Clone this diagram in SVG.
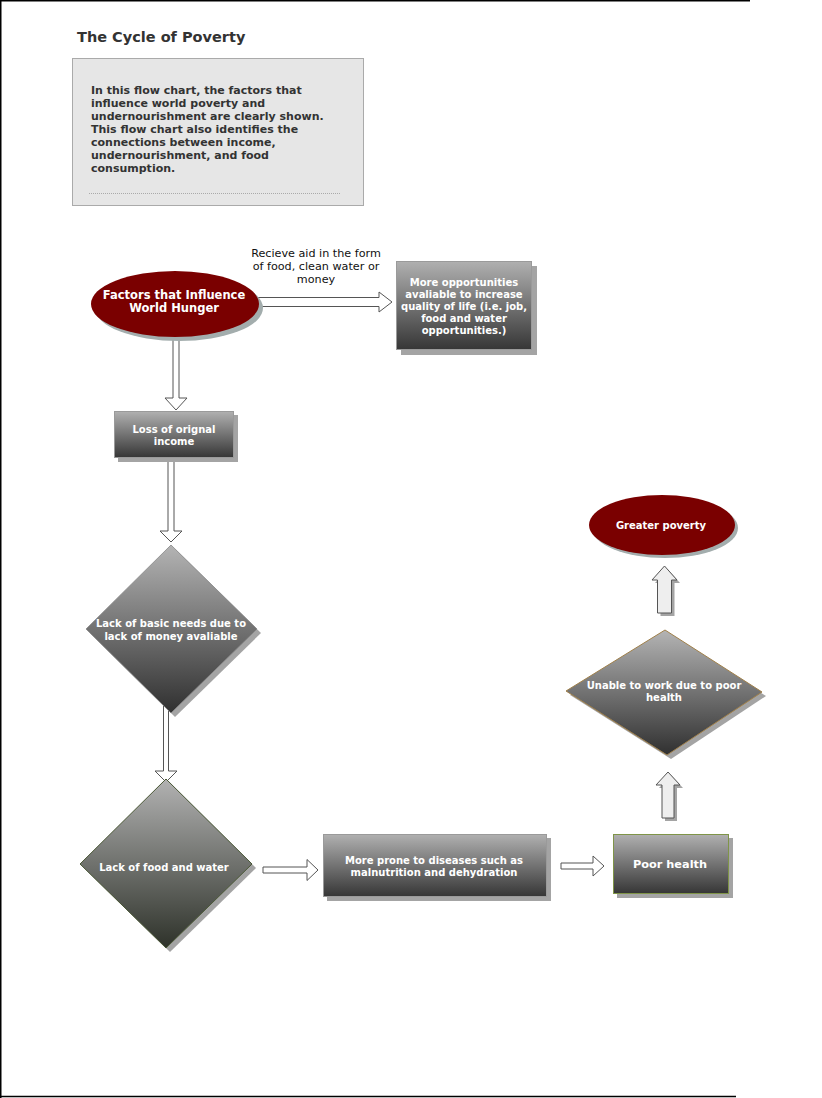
<svg xmlns="http://www.w3.org/2000/svg" width="822" height="1098" viewBox="0 0 822 1098">
<style>
.bt{font-family:"DejaVu Sans","Verdana",sans-serif;font-weight:bold;fill:#ffffff;text-anchor:middle;font-size:10px}
.desc{font-family:"DejaVu Sans","Verdana",sans-serif;font-weight:bold;fill:#333333;font-size:11px}
.lbl{font-family:"DejaVu Sans","Verdana",sans-serif;fill:#111111;text-anchor:middle;font-size:11.2px}
.arr{fill:#ffffff;stroke:#555555;stroke-width:1}
.arrg{fill:#eeeeee;stroke:#555555;stroke-width:1}
.sh{fill:#a4a4a4}
.esh{fill:#a3adad}
.ell{fill:#7a0000}
.box{fill:url(#gbox);stroke:#9a9a9a;stroke-width:1}
</style>
<defs>
<linearGradient id="gbox" x1="0" y1="0" x2="0" y2="1">
<stop offset="0" stop-color="#b0b0b0"/>
<stop offset="1" stop-color="#363636"/>
</linearGradient>
<linearGradient id="gdia" x1="0" y1="0" x2="0" y2="1">
<stop offset="0" stop-color="#b4b4b4"/>
<stop offset="1" stop-color="#303030"/>
</linearGradient>
<linearGradient id="gdia2" x1="0" y1="0" x2="0" y2="1">
<stop offset="0" stop-color="#b2b2b2"/>
<stop offset="1" stop-color="#2e322a"/>
</linearGradient>
</defs>
<rect x="0" y="0" width="822" height="1098" fill="#ffffff"/>
<g id="page-border" stroke="#000000" stroke-width="1.5" fill="none">
<line x1="0" y1="0.75" x2="750" y2="0.75"/>
<line x1="0.75" y1="0" x2="0.75" y2="1098"/>
<line x1="0" y1="1096.5" x2="736" y2="1096.5"/>
</g>
<g id="title">
<text x="77" y="42" style="font-family:'DejaVu Sans',Verdana,sans-serif;font-weight:bold;font-size:14.5px;fill:#333333">The Cycle of Poverty</text>
</g>
<g id="description">
<rect x="72.5" y="58.5" width="291" height="147" fill="#e6e6e6" stroke="#aaaaaa" stroke-width="1"/>
<text class="desc" x="91" y="94">In this flow chart, the factors that</text>
<text class="desc" x="91" y="107">influence world poverty and</text>
<text class="desc" x="91" y="120">undernourishment are clearly shown.</text>
<text class="desc" x="91" y="133">This flow chart also identifies the</text>
<text class="desc" x="91" y="146">connections between income,</text>
<text class="desc" x="91" y="159">undernourishment, and food</text>
<text class="desc" x="91" y="172">consumption.</text>
<line x1="89" y1="193.5" x2="340" y2="193.5" stroke="#aaaaaa" stroke-width="1" stroke-dasharray="1,1"/>
</g>
<g id="connectors">
<path class="arr" d="M250,297.5 H379 V292 L392,302 L379,312 V306.5 H250 Z"/>
<path class="arr" d="M173,330 V398 H165 L176,410 L187,398 H179 V330 Z"/>
<path class="arr" d="M168,452 V531 H160 L171,542 L182,531 H174 V452 Z"/>
<path class="arr" d="M163.5,705 V771 H155 L166,782 L177,771 H168.5 V705 Z"/>
<path class="arr" d="M263,867 H307 V859.5 L318,870 L307,880.5 V873 H263 Z"/>
<path class="arr" d="M561,863 H593 V856 L604,866 L593,876 V869 H561 Z"/>
<g id="up-arrow-1">
<path class="sh" d="M665,821 V788 H659 L671,775 L683,788 H677 V821 Z"/>
<path class="arrg" d="M662,818 V785 H656 L668,772 L680,785 H674 V818 Z"/>
</g>
<g id="up-arrow-2">
<path class="sh" d="M660.5,616 V583 H655 L667.5,569 L680,583 H674.5 V616 Z"/>
<path class="arrg" d="M657.5,613 V580 H652 L664.5,566 L677,580 H671.5 V613 Z"/>
</g>
<text class="lbl" x="316" y="257">Recieve aid in the form</text>
<text class="lbl" x="316" y="270">of food, clean water or</text>
<text class="lbl" x="316" y="283">money</text>
</g>
<g id="factors">
<ellipse class="esh" cx="179" cy="308" rx="84" ry="33"/>
<ellipse class="ell" cx="175" cy="304" rx="84" ry="33"/>
<text class="bt" x="174" y="299" style="font-size:11.5px">Factors that Influence</text>
<text class="bt" x="174" y="312" style="font-size:11.5px">World Hunger</text>
</g>
<g id="opportunities">
<rect class="sh" x="401" y="266" width="136" height="89"/>
<rect class="box" x="396.5" y="261.5" width="135" height="88"/>
<text class="bt" x="464" y="286">More opportunities</text>
<text class="bt" x="464" y="298">avaliable to increase</text>
<text class="bt" x="464" y="310">quality of life (i.e. job,</text>
<text class="bt" x="464" y="322">food and water</text>
<text class="bt" x="464" y="334">opportunities.)</text>
</g>
<g id="loss-income">
<rect class="sh" x="118" y="415" width="120" height="47"/>
<rect class="box" x="114.5" y="411.5" width="119" height="46"/>
<text class="bt" x="174" y="433">Loss of orignal</text>
<text class="bt" x="174" y="445">income</text>
</g>
<g id="lack-basic-needs">
<polygon class="sh" points="175,549 261,633 175,717 90,633"/>
<polygon points="171,545 257,629 171,713 86,629" fill="url(#gdia)" stroke="#888888" stroke-width="0.8"/>
<text class="bt" x="171" y="627">Lack of basic needs due to</text>
<text class="bt" x="171" y="640">lack of money avaliable</text>
</g>
<g id="lack-food-water">
<polygon class="sh" points="170,783 256,868 170,952 84,868"/>
<polygon points="166,779 252,864 166,948 80,864" fill="url(#gdia2)" stroke="#4a5836" stroke-width="1"/>
<text class="bt" x="164" y="871">Lack of food and water</text>
</g>
<g id="prone-diseases">
<rect class="sh" x="327" y="838" width="224" height="63"/>
<rect class="box" x="323.5" y="834.5" width="223" height="62"/>
<text class="bt" x="434" y="864">More prone to diseases such as</text>
<text class="bt" x="434" y="876">malnutrition and dehydration</text>
</g>
<g id="poor-health">
<rect class="sh" x="617" y="838" width="116" height="60"/>
<rect x="613.5" y="834.5" width="115" height="59" fill="url(#gbox)" stroke="#7f9448" stroke-width="1"/>
<text class="bt" x="670" y="868" style="font-size:11.3px">Poor health</text>
</g>
<g id="unable-work">
<polygon class="sh" points="668,634 766,696 671,759 570,695"/>
<polygon points="665,630 762,692 667,755 566,691" fill="url(#gdia)" stroke="#a0804a" stroke-width="1"/>
<text class="bt" x="664" y="689">Unable to work due to poor</text>
<text class="bt" x="664" y="701">health</text>
</g>
<g id="greater-poverty">
<ellipse class="esh" cx="665" cy="528" rx="73" ry="30"/>
<ellipse class="ell" cx="662" cy="525" rx="73" ry="30"/>
<text class="bt" x="661" y="529">Greater poverty</text>
</g>
</svg>
